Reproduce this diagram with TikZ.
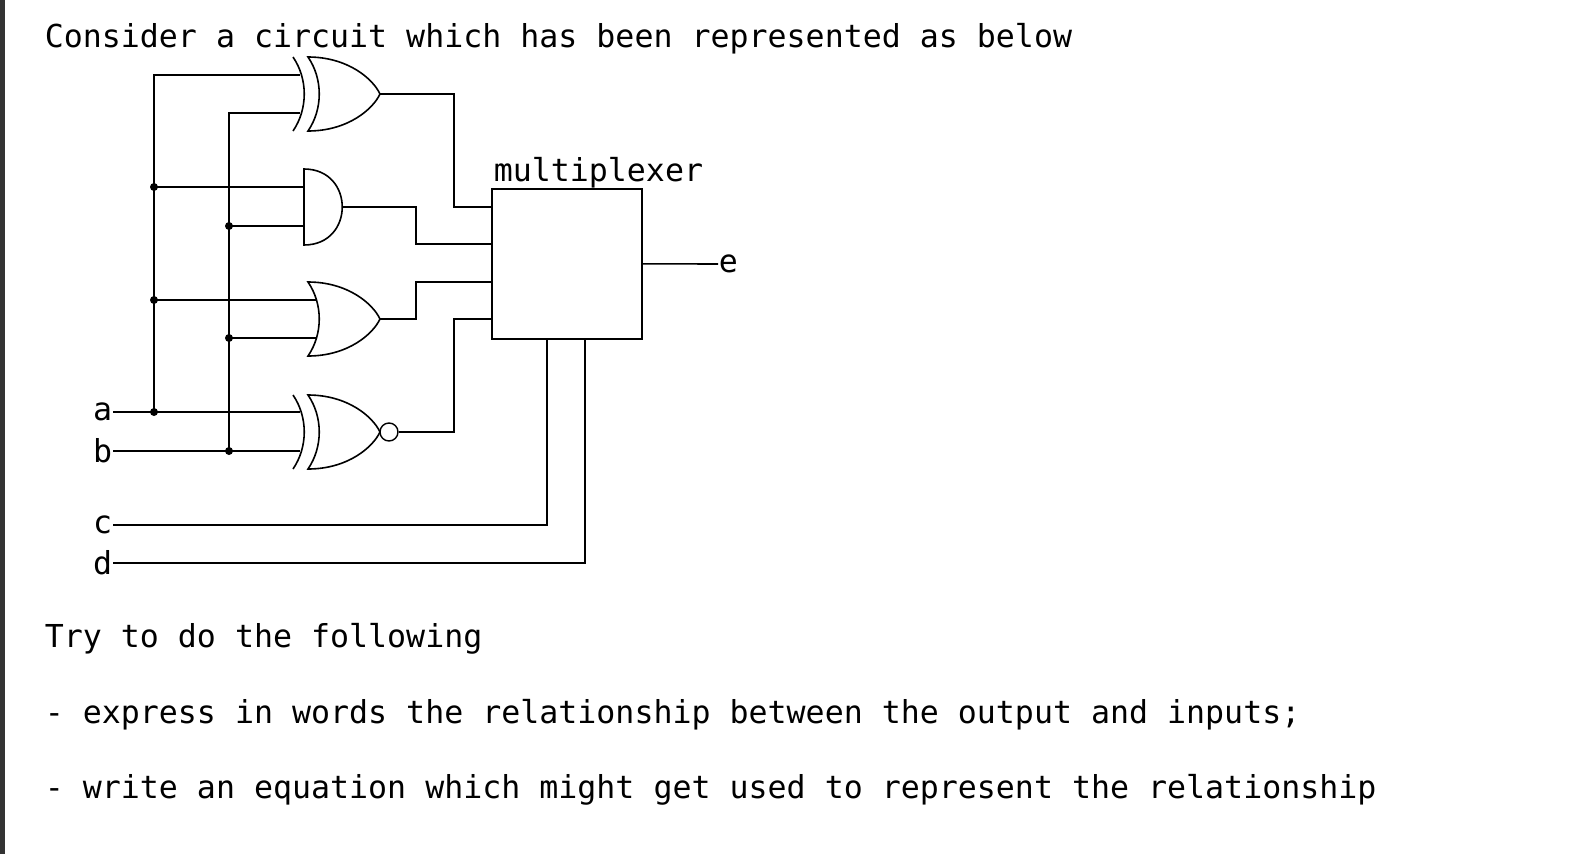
\documentclass[tikz,border=0pt]{standalone}
\usepackage{fontspec}
\setmainfont{DejaVu Sans Mono}
\begin{document}
\begin{tikzpicture}[x=1pt,y=-1pt,line width=1.6pt,
  txt/.style={anchor=base west,inner sep=0pt,font=\fontsize{31.6}{36}\selectfont},
  lbl/.style={inner sep=0pt,font=\fontsize{31.6}{36}\selectfont},
  dot/.style={circle,fill=black,inner sep=0pt,minimum size=8pt},
  orgate/.pic={\draw[fill=white] (0,-37) .. controls (40,-37) and (65,-15) .. (72,0) .. controls (65,15) and (40,37) .. (0,37) .. controls (15,15) and (15,-15) .. (0,-37) -- cycle;},
  xtra/.pic={\draw (-15,-37) .. controls (0,-15) and (0,15) .. (-15,37);}]
\useasboundingbox (0,0) rectangle (1592,854);
\fill[black!80] (0,0) rectangle (5,854);
\node[txt] (t1) at (44,47) {Consider a circuit which has been represented as below};
\node[txt] (t2) at (44,647) {Try to do the following};
\node[txt] (t3) at (44,723) {- express in words the relationship between the output and inputs;};
\node[txt] (t4) at (44,798) {- write an equation which might get used to represent the relationship};
% inputs
\node[lbl,anchor=east] (la) at (113,412) {a};
\node[lbl,anchor=east] (lb) at (113,451) {b};
\node[lbl,anchor=east] (lc) at (113,525) {c};
\node[lbl,anchor=east] (ld) at (113,563) {d};
\draw (la.east) -- (300,412);
\draw (lb.east) -- (300,451);
\draw (154,412) -- (154,75) -- (300,75);
\draw (229,451) -- (229,113) -- (300,113);
\draw (154,187) -- (304,187);
\draw (229,226) -- (304,226);
\draw (154,300) -- (320,300);
\draw (229,338) -- (320,338);
\foreach \p in {(154,187),(154,300),(154,412),(229,226),(229,338),(229,451)} \node[dot] at \p {};
% gates
\pic at (308,94) {orgate}; \pic at (308,94) {xtra};
\draw[fill=white] (304,169) .. controls (355,169) and (355,245) .. (304,245) -- cycle;
\pic at (308,319) {orgate};
\pic at (308,432) {orgate}; \pic at (308,432) {xtra};
\node[circle,draw,fill=white,inner sep=0pt,minimum size=18pt,line width=1.4pt] (bub) at (389,432) {};
% mux
\node[draw,minimum width=150pt,minimum height=150pt,inner sep=0pt,anchor=north west] (mux) at (491,188) {};
\node[lbl,anchor=base west] (ml) at (493,181) {multiplexer};
\node[lbl,anchor=west] (le) at (718,264) {e};
\draw (mux.east) -- (le.west);
\draw (380,94) -- (454,94) -- (454,207) -- (491,207);
\draw (342,207) -- (416,207) -- (416,244) -- (491,244);
\draw (380,319) -- (416,319) -- (416,282) -- (491,282);
\draw (bub.east) -- (454,432) -- (454,319) -- (491,319);
\draw (lc.east) -- (547,525) -- (547,338);
\draw (ld.east) -- (585,563) -- (585,338);
\end{tikzpicture}
\end{document}
